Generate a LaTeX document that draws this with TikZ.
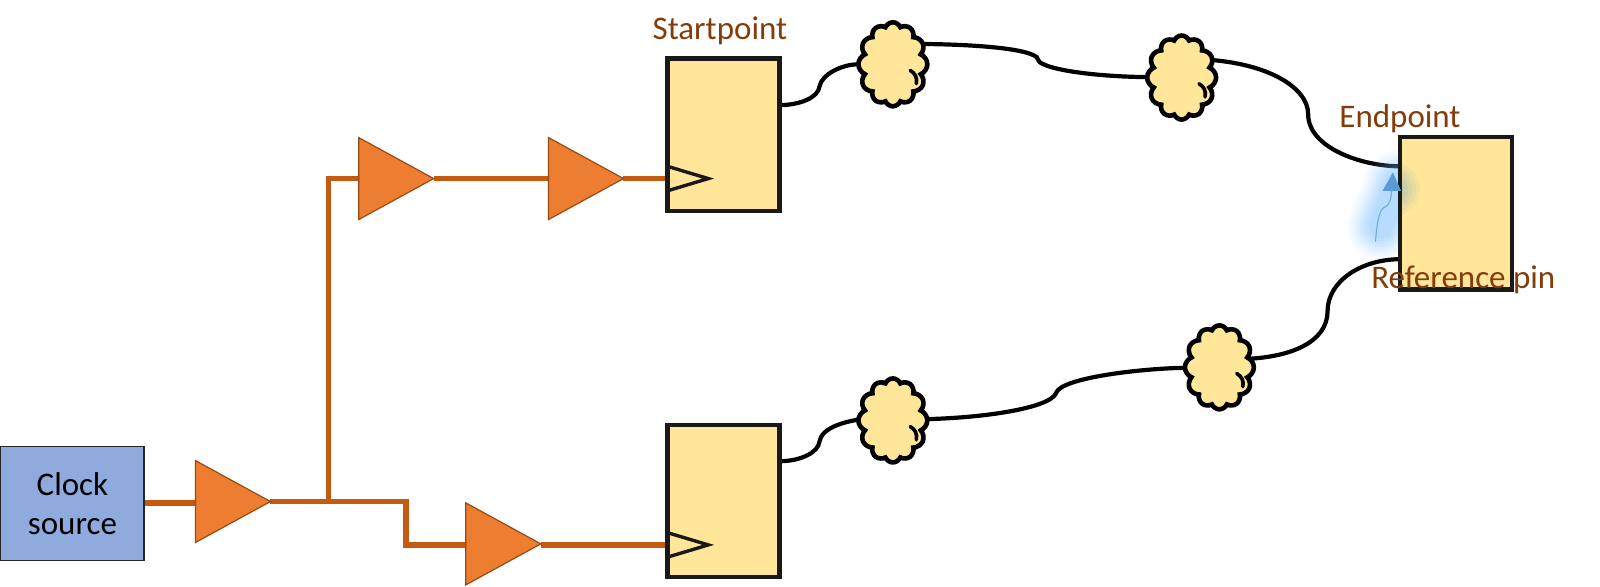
\documentclass[tikz,border=0pt]{standalone}
\usepackage{fontspec}
\setmainfont{Carlito}
\usetikzlibrary{shapes.geometric,shapes.symbols,calc,backgrounds}
\definecolor{ffyellow}{HTML}{FFE699}
\definecolor{bufor}{HTML}{ED7D31}
\definecolor{clkwire}{HTML}{C55A11}
\definecolor{bufedge}{HTML}{964B14}
\definecolor{srcblue}{HTML}{8FAADC}
\definecolor{lab}{HTML}{843C0C}
\definecolor{glow}{HTML}{6FB8FF}
\definecolor{arrowblue}{HTML}{5B9BD5}
\tikzset{
  lbl/.style={inner sep=0pt,text=lab,font=\fontsize{33}{38}\selectfont},
  ff/.style={draw=black!90,line width=4.2pt,fill=ffyellow,minimum width=112pt,minimum height=152.5pt,inner sep=0pt,outer sep=0pt},
  buf/.style={isosceles triangle,isosceles triangle stretches,shape border rotate=0,draw=bufedge,line width=1.2pt,fill=bufor,minimum width=82pt,minimum height=75pt,inner sep=0pt,outer sep=0pt,anchor=apex},
  clk/.style={draw=clkwire,line width=5.6pt,line join=miter},
  cl/.style={cloud,cloud puffs=12,cloud puff arc=135,aspect=0.82,draw=black,line width=4.6pt,fill=ffyellow,minimum width=69pt,minimum height=84pt,inner sep=0pt,outer sep=0pt},
  wire/.style={draw=black,line width=4.2pt},
  curl/.style={draw=black,line width=3.6pt,line cap=round},
  ckmark/.style={draw=black!90,line width=3.4pt,line join=miter}
}
\begin{document}
\begin{tikzpicture}[x=1.0204pt,y=-1.0204pt]
\useasboundingbox (0,0) rectangle (1568,574.3);
% clock tree
\node[draw=black!85,line width=1.4pt,fill=srcblue,minimum width=144pt,minimum height=114pt,inner sep=0pt,align=center,font=\fontsize{33}{39.5}\selectfont] (src) at (70.5,493.5) {\hspace{1pt}Clock\\\hspace{1pt}source};
\node[buf] (b0) at (265,491.5) {};
\node[buf] (b1) at (425,175) {};
\node[buf] (b2) at (611,175) {};
\node[buf] (b3) at (530,533) {};
\coordinate (tee) at (322,491.5);
\coordinate (jog) at (398,491.5);
\coordinate (jogb) at (398,534);
\coordinate (b3in) at (456,534);
\coordinate (b3out) at (530,534);
% flip-flops and glow
\foreach \w/\o in {66/0.05,60/0.06,54/0.07,48/0.08,42/0.09,36/0.10,30/0.10,24/0.10}
  \draw[glow,line width=\w pt,line cap=round,opacity=\o] (1369,180) -- (1353,222);
\node[ff] (ff1) at (709,132) {};
\node[ff] (ff2) at (709,491) {};
\node[ff] (ff3) at (1427,209) {};
\begin{scope}
\clip (1374,130) rectangle (1420,290);
\foreach \w/\o in {52/0.06,44/0.08,36/0.09,28/0.10,20/0.10}
  \draw[arrowblue,line width=\w pt,line cap=round,opacity=\o] (1366,185) -- (1366,186);
\end{scope}
% clock wires
\begin{pgfonlayer}{background}
\draw[clk] (src.east |- 0,493) -- (b0.lower side |- 0,493);
\draw[clk] (b0.apex) -- (tee) -- (jog) -- (jogb) -- (b3in);
\draw[clk] (tee) -- (tee |- b1.lower side) -- (b1.lower side);
\draw[clk] (b1.apex) -- (b2.lower side);
\draw[clk] (b2.apex) -- (ff1.west |- b2.apex);
\draw[clk] (b3out) -- (ff2.west |- b3out);
\end{pgfonlayer}
% clock pin marks
\coordinate (ck1) at ($(ff1.west)+(0,31)$);
\coordinate (ck2) at ($(ff2.west)+(0,31)$);
\draw[ckmark] (ck1) -- ++(40,12) -- ++(-40,12);
\draw[ckmark] (ck2) -- ++(40,12) -- ++(-40,12);
% clouds
\node[cl] (c1) at (875,63) {};
\node[cl] (c2) at (1158,76) {};
\node[cl] (c3) at (1195,360) {};
\node[cl] (c4) at (875,412) {};
\foreach \c in {c1,c2,c3,c4}
  \draw[curl] ($(\c)+(17,6)$) .. controls ($(\c)+(22,9)$) and ($(\c)+(24,13)$) .. ($(\c)+(23,19)$);
% data wires
\begin{pgfonlayer}{background}
\draw[wire] (ff1.east |- 0,103) .. controls (785,103) and (802,95) .. (803,85)
   .. controls (805,73) and (825,63) .. (c1);
\draw[wire] ($(c1)+(15,-20)$) .. controls (950,43) and (1005,47) .. (1016,56)
   .. controls (1017,58) and (1018,60) .. (1019,61)
   .. controls (1030,69) and (1075,75) .. (c2);
\draw[wire] ($(c2)+(15,-18)$) .. controls (1240,60) and (1282,85) .. (1282,112)
   .. controls (1282,145) and (1335,163) .. (ff3.west |- 0,163);
\draw[wire] (ff2.east |- 0,452) .. controls (785,452) and (802,443) .. (803,433)
   .. controls (805,420) and (825,410) .. ($(c4)+(0,-4)$);
\draw[wire] ($(c4)+(15,-1)$) .. controls (960,411) and (1030,400) .. (1035,385)
   .. controls (1040,370) and (1120,361) .. (c3);
\draw[wire] ($(c3)+(15,-8)$) .. controls (1265,352) and (1301,335) .. (1301,305)
   .. controls (1301,275) and (1335,254) .. (ff3.west |- 0,254);
\end{pgfonlayer}
% arrow
\coordinate (atail) at (1348,237);
\coordinate (amid) at (1357,203);
\coordinate (atip) at (1364,186);
\draw[arrowblue!85,line width=1.1pt] (atail) .. controls (1349,222) and (1351,205) .. (amid) .. controls (1362,201) and (1363,195) .. (atip);
\fill[arrowblue] (1365,169) -- (1373,187) -- (1355,187) -- cycle;
% labels
\node[lbl] (start) at (705.5,30) {Startpoint};
\node[lbl] (end) at (1372,116.5) {Endpoint};
\node[lbl] (ref) at (1434,274) {Reference pin};
\end{tikzpicture}
\end{document}
